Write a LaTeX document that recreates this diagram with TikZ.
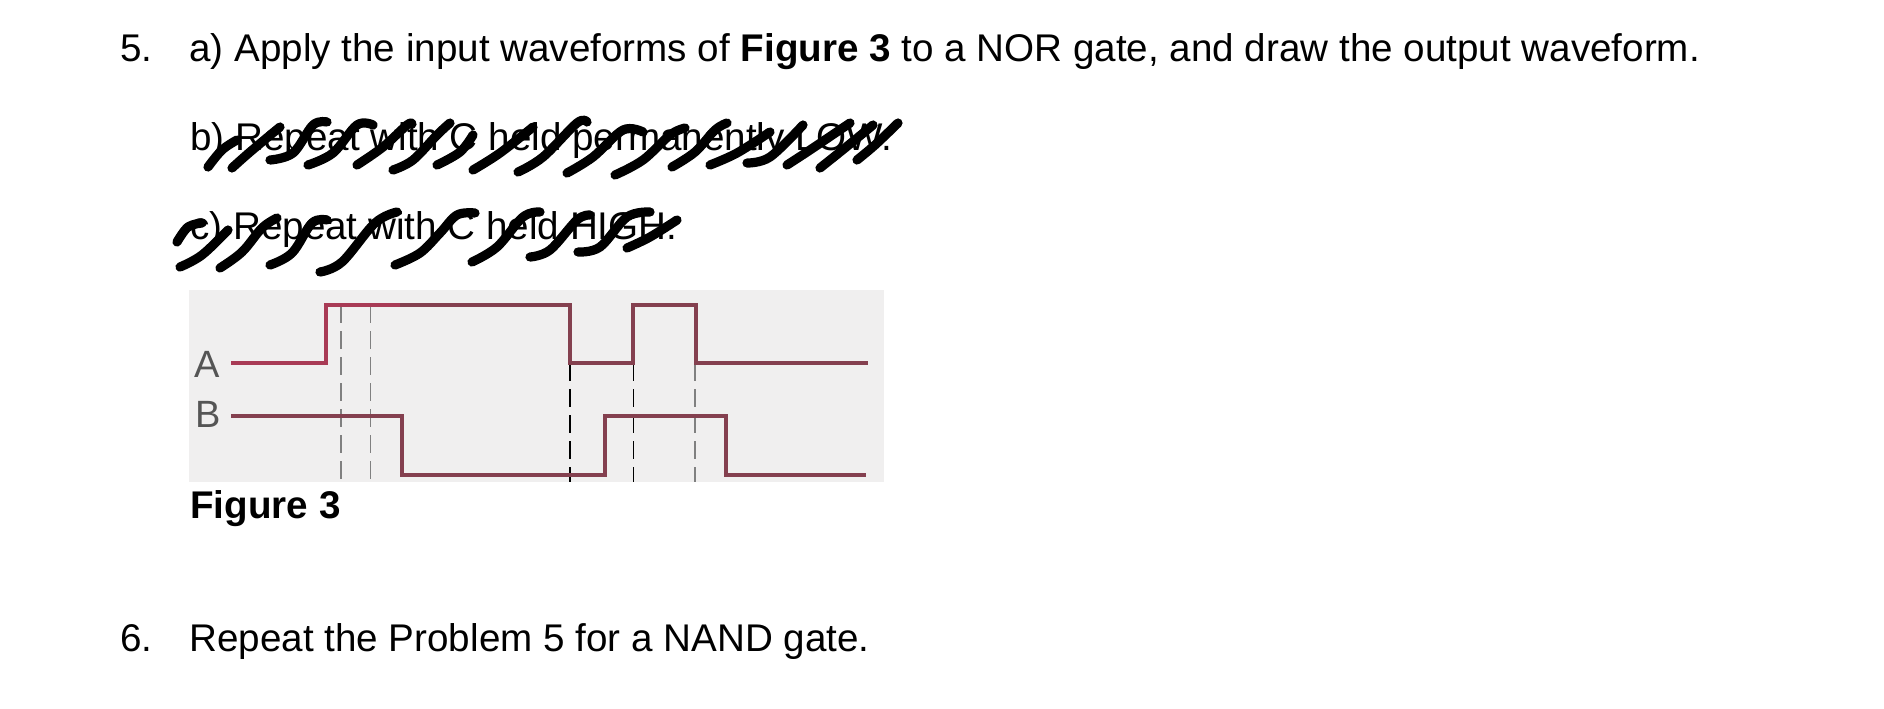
\documentclass[tikz,border=0pt]{standalone}
\usepackage{fontspec}
\setmainfont{Liberation Sans}
\definecolor{panel}{HTML}{F0EFEF}
\definecolor{wavered}{HTML}{A83A55}
\definecolor{wavedark}{HTML}{84404F}
\definecolor{letter}{HTML}{555555}
\tikzset{
  txt/.style={anchor=base west, inner sep=0pt, font=\fontsize{19.3}{23}\selectfont},
  lab/.style={anchor=base, inner sep=0pt, text=letter, font=\fontsize{19}{22}\selectfont},
  scribble/.style={line width=4.6pt, line cap=round, line join=round},
  wave/.style={line width=2pt, line join=miter},
  guide/.style={line width=.6pt, dash pattern=on 9pt off 4pt}
}

\begin{document}
\begin{tikzpicture}[x=0.5pt, y=-0.5pt]
\useasboundingbox (0,0) rectangle (1884,708);
\node[txt] (n5) at (120,61) {5.};
\node[txt] (qa) at (189,61) {a) Apply the input waveforms of \textbf{Figure 3} to a NOR gate, and draw the output waveform.};
\node[txt] (qb) at (190,150) {b) Repeat with C held permanently LOW.};
\node[txt] (qc) at (190,239) {c) Repeat with C held HIGH.};
\fill[panel] (189,290) rectangle (883.5,482);
\node[lab] (A) at (207,377) {A};
\node[lab] (B) at (208,427) {B};
\node[txt] (fig) at (190,518) {\textbf{Figure 3}};
\node[txt] (n6) at (120,651) {6.};
\node[txt] (qd) at (189,651) {Repeat the Problem 5 for a NAND gate.};
\foreach \x in {341,370.5}
  \draw[guide, black!50] (\x,305) -- (\x,482);
\draw[guide, black!50] (695,363) -- (695,482);
\foreach \x in {570,633.5}
  \draw[guide, black, line width=.9pt] (\x,363) -- (\x,482);
\draw[wave, wavered] (231,363) -- (326,363) -- (326,305) -- (400,305);
\draw[wave, wavedark] (400,305) -- (570,305) -- (570,363) -- (632.5,363) -- (632.5,305) -- (696,305) -- (696,363) -- (867.5,363);
\draw[wave, wavedark] (231,416) -- (402,416) -- (402,475) -- (605,475) -- (605,416) -- (726,416) -- (726,475) -- (866,475);
\foreach \p in {
  {(208,167) (222,150) (237,140)},
  {(232,168) (250,152) (280,127)},
  {(270,160) (293,153) (313,125) (327,122)},
  {(308,165) (333,153) (357,125) (373,125)},
  {(357,165) (383,147) (407,125) (412,124)},
  {(393,170) (413,160) (437,135) (450,123)},
  {(437,165) (460,152) (473,135)},
  {(473,170) (500,153) (533,127)},
  {(518,172) (543,157) (577,123) (587,122)},
  {(567,173) (593,157) (623,130) (643,132)},
  {(615,175) (643,160) (670,135) (685,128)},
  {(672,167) (695,152) (715,130) (727,123)},
  {(710,165) (737,153) (770,132)},
  {(747,163) (770,157) (803,125)},
  {(787,165) (810,150) (850,123)},
  {(820,168) (845,148) (873,125)},
  {(857,160) (875,145) (898,123)},
  {(177,242) (188,227) (202,223)},
  {(180,267) (202,255) (228,230)},
  {(220,268) (242,252) (262,228) (277,218)},
  {(270,265) (292,253) (312,223) (327,220)},
  {(320,272) (342,262) (375,223) (397,212)},
  {(395,265) (420,253) (440,233) (457,215) (475,213)},
  {(472,262) (497,247) (523,217) (540,212)},
  {(530,257) (550,250) (577,220) (590,215)},
  {(578,252) (600,247) (627,217) (650,212)},
  {(627,248) (650,237) (677,220)}}
  \draw[scribble] plot[smooth, tension=.6] coordinates {\p};
\end{tikzpicture}
\end{document}
